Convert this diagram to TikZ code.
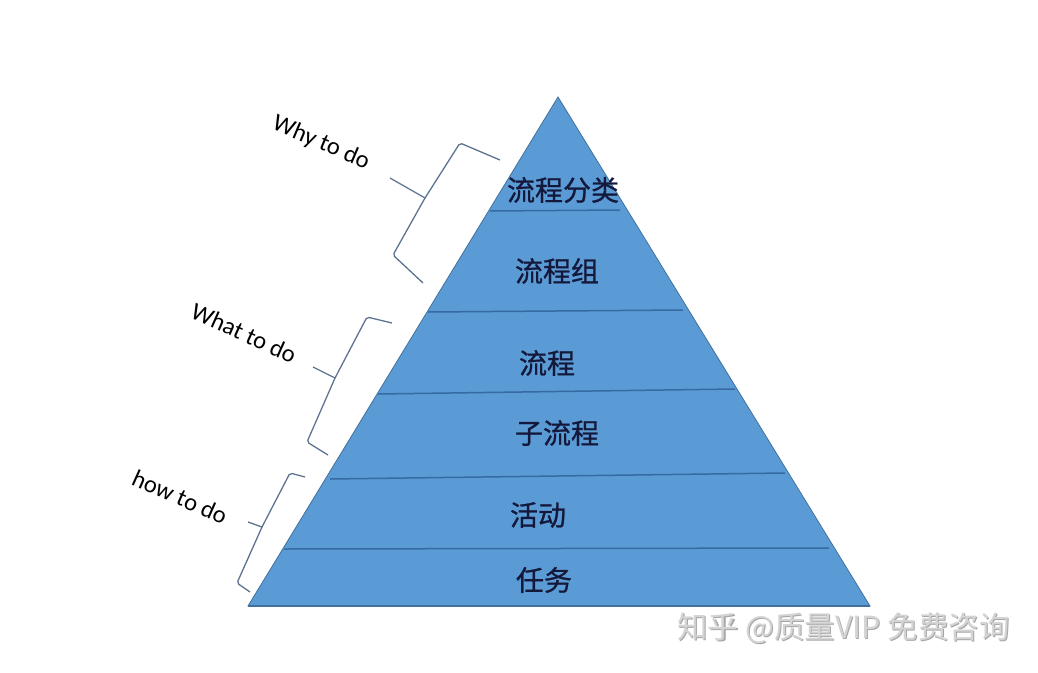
\documentclass[tikz,border=0pt]{standalone}
\usepackage{fontspec}
\setmainfont{Carlito}
\newfontfamily\cjk{Noto Sans CJK SC}
\newfontfamily\cjkmed{Noto Sans CJK SC}[FakeBold=0.9]
\usetikzlibrary{positioning}
\definecolor{pyrfill}{HTML}{5B9BD5}
\definecolor{pyredge}{HTML}{41719C}
\definecolor{layerline}{HTML}{356AA3}
\definecolor{bracecol}{HTML}{5D7390}
\definecolor{layertext}{HTML}{14183A}
\definecolor{wmgray}{HTML}{D4D4D4}
\definecolor{wmshade}{HTML}{A6A6A6}
\tikzset{
	layer/.style={font=\cjkmed\fontsize{28}{32}\selectfont,text=layertext,inner sep=0pt},
	tag/.style={font=\fontsize{24.5}{28}\selectfont,text=black,inner sep=0pt},
	brace/.style={draw=bracecol,line width=1.3pt,rounded corners=2pt},
	divider/.style={draw=layerline,line width=1.5pt},
	watermark/.style={font=\cjk\fontsize{30.5}{34}\selectfont,inner sep=0pt}
}
\begin{document}
\begin{tikzpicture}[x=1pt,y=-1pt]
	\useasboundingbox (0,0) rectangle (1038,672);
	
	% pyramid
	\filldraw[fill=pyrfill,draw=pyredge,line width=0.8pt] (558,97) -- (870,606) -- (248,606) -- cycle;
	\draw[pyredge,line width=1.6pt] (248,606) -- (870,606);
	
	\draw[divider] (490,211) -- (620,210);
	\draw[divider] (428,312) -- (683,310);
	\draw[divider] (378,394) -- (735,389);
	\draw[divider] (330,479) -- (785,473);
	\draw[divider] (284,549) -- (829,548);
	
	\node[layer] (cat) at (563,190) {流程分类};
	\node[layer] (grp) at (557,271) {流程组};
	\node[layer] (proc) at (547,363) {流程};
	\node[layer] (sub) at (557,433) {子流程};
	\node[layer] (act) at (538,515) {活动};
	\node[layer] (task) at (544,580) {任务};
	
	% braces
	\draw[brace] (500,160) -- (460,143) -- (425,198) -- (393,255) -- (423,283);
	\draw[brace] (425,198) -- (390,178);
	\draw[brace] (392,323) -- (367,317) -- (335,378) -- (307,442) -- (328,455);
	\draw[brace] (335,378) -- (313,367);
	\draw[brace] (305,477) -- (290,473) -- (262,527) -- (237,583) -- (250,592);
	\draw[brace] (262,527) -- (248,522);
	
	\node[tag,rotate=-23] (why) at (321,143) {Why to do};
	\node[tag,rotate=-24] (what) at (244,333) {What to do};
	\node[tag,rotate=-24] (how) at (180,497) {how to do};
	
	% watermark
	\node[watermark,text=wmshade] (wmshadow) at (844.8,629) {知乎 @质量VIP 免费咨询};
	\node[watermark,text=wmgray] (wm) at (843.5,628) {知乎 @质量VIP 免费咨询};
\end{tikzpicture}
\end{document}
